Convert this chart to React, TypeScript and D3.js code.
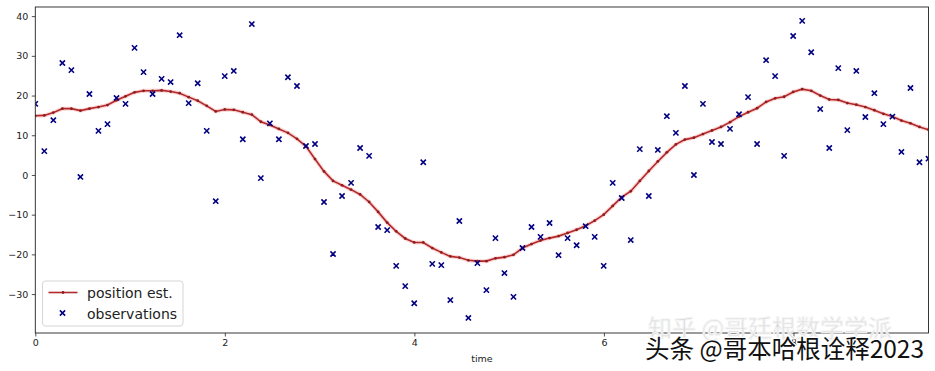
import { useEffect, useRef } from "react";
import * as d3 from "d3";

// 100 samples on [0, 3π]
const N = 100;
const T_MAX = 3 * Math.PI;
const times = d3.range(N).map((i) => (i * T_MAX) / (N - 1));

const observations = [
  17.9, 6.0, 13.8, 28.2, 26.4, -0.5, 20.4, 11.1, 12.8, 19.4,
  17.9, 32.0, 25.9, 20.4, 24.2, 23.4, 35.2, 18.1, 23.1, 11.1,
  -6.6, 24.9, 26.2, 9.0, 38.0, -0.8, 13.0, 9.0, 24.6, 22.4,
  7.3, 7.8, -6.8, -19.9, -5.3, -2.0, 6.8, 4.8, -13.1, -13.9,
  -22.9, -28.0, -32.3, 3.2, -22.4, -22.7, -31.5, -11.6, -36.0, -22.2,
  -29.0, -15.9, -24.7, -30.7, -18.4, -13.1, -15.6, -12.1, -20.2, -15.9,
  -17.7, -12.9, -15.6, -22.9, -2.0, -5.8, -16.4, 6.5, -5.3, 6.3,
  14.8, 10.6, 22.4, 0.0, 17.9, 8.3, 7.8, 11.6, 15.3, 19.6,
  7.8, 28.9, 24.9, 4.8, 35.0, 38.8, 30.9, 16.6, 6.8, 26.9,
  11.3, 26.2, 14.6, 20.6, 12.8, 14.7, 5.8, 21.9, 3.2, 4.1,
];

const estimates = [
  14.9, 15.0, 15.7, 16.7, 16.7, 16.2, 16.7, 17.1, 17.6, 18.8,
  19.8, 20.8, 21.2, 21.2, 21.3, 21.0, 20.6, 19.6, 18.7, 17.4,
  16.0, 16.5, 16.4, 15.8, 15.2, 13.4, 12.6, 11.6, 10.6, 9.1,
  7.2, 4.0, 0.9, -1.5, -2.6, -3.7, -4.9, -6.8, -9.3, -12.0,
  -14.2, -16.0, -17.0, -17.0, -18.4, -19.5, -20.5, -20.8, -21.5, -21.7,
  -21.7, -21.0, -20.7, -20.1, -18.4, -17.4, -16.5, -15.9, -15.4, -14.6,
  -13.8, -12.8, -11.5, -10.0, -7.8, -5.6, -4.1, -1.5, 1.0, 3.4,
  5.7, 7.7, 8.9, 9.4, 10.3, 11.2, 12.1, 13.3, 14.7, 15.8,
  16.8, 18.4, 19.3, 19.7, 20.9, 21.6, 21.2, 20.0, 19.0, 18.9,
  18.1, 17.7, 17.1, 16.3, 15.4, 14.7, 13.7, 13.0, 12.1, 11.4,
];

const xTicks = [0, 2, 4, 6, 8];
const yTicks = [-30, -20, -10, 0, 10, 20, 30, 40];
const legendLabels = ["position est.", "observations"];

const W = 935;
const H = 371;
const margin = { top: 7, right: 6.5, bottom: 38, left: 35.3 };
const FONT = "'DejaVu Sans', sans-serif";
const CJK = "'Noto Sans CJK SC', sans-serif";

export default function App() {
  const ref = useRef<SVGSVGElement>(null);

  useEffect(() => {
    const svg = d3.select(ref.current);
    svg.selectAll("*").remove();

    const x = d3
      .scaleLinear()
      .domain([0, T_MAX])
      .range([margin.left, W - margin.right]);
    const y = d3
      .scaleLinear()
      .domain([-39.8, 42.3])
      .range([H - margin.bottom, margin.top]);

    svg.append("rect").attr("width", W).attr("height", H).attr("fill", "white");

    svg
      .append("defs")
      .append("clipPath")
      .attr("id", "plot-clip")
      .append("rect")
      .attr("x", margin.left)
      .attr("y", margin.top)
      .attr("width", W - margin.left - margin.right)
      .attr("height", H - margin.top - margin.bottom);

    const plot = svg.append("g").attr("clip-path", "url(#plot-clip)");

    const line = d3
      .line<number>()
      .x((_, i) => x(times[i]))
      .y((d) => y(d));

    plot
      .append("path")
      .datum(estimates)
      .attr("fill", "none")
      .attr("stroke", "#f5a3a3")
      .attr("stroke-opacity", 0.45)
      .attr("stroke-width", 4)
      .attr("d", line);

    plot
      .append("path")
      .datum(estimates)
      .attr("fill", "none")
      .attr("stroke", "#b3292b")
      .attr("stroke-width", 1.6)
      .attr("d", line);

    plot
      .selectAll("circle.est")
      .data(estimates)
      .join("circle")
      .attr("class", "est")
      .attr("cx", (_, i) => x(times[i]))
      .attr("cy", (d) => y(d))
      .attr("r", 1.4)
      .attr("fill", "#8e1e1e");

    const s = 2.6;
    plot
      .selectAll("path.obs")
      .data(observations)
      .join("path")
      .attr("class", "obs")
      .attr("transform", (d, i) => `translate(${x(times[i])},${y(d)})`)
      .attr("d", `M${-s},${-s}L${s},${s}M${-s},${s}L${s},${-s}`)
      .attr("stroke", "#000080")
      .attr("stroke-width", 1.6)
      .attr("fill", "none");

    // axes
    const xAxis = svg
      .append("g")
      .attr("transform", `translate(0,${H - margin.bottom})`)
      .call(d3.axisBottom(x).tickValues(xTicks).tickSize(3.5).tickPadding(3).tickFormat(d3.format("d")));
    const yAxis = svg
      .append("g")
      .attr("transform", `translate(${margin.left},0)`)
      .call(
        d3
          .axisLeft(y)
          .tickValues(yTicks)
          .tickSize(3.5)
          .tickPadding(3.5)
          .tickFormat((d) => String(d).replace("-", "\u2212"))
      );
    [xAxis, yAxis].forEach((g) => {
      g.select(".domain").remove();
      g.selectAll("line").attr("stroke", "#222").attr("stroke-width", 0.8);
      g.selectAll("text").attr("font-family", FONT).attr("font-size", 9.5).attr("fill", "#222");
    });

    svg
      .append("rect")
      .attr("x", margin.left)
      .attr("y", margin.top)
      .attr("width", W - margin.left - margin.right)
      .attr("height", H - margin.top - margin.bottom)
      .attr("fill", "none")
      .attr("stroke", "#222")
      .attr("stroke-width", 0.9);

    svg
      .append("text")
      .attr("x", (margin.left + W - margin.right) / 2)
      .attr("y", 362)
      .attr("text-anchor", "middle")
      .attr("font-family", FONT)
      .attr("font-size", 9.5)
      .attr("fill", "#222")
      .text("time");

    // legend
    const lg = svg.append("g").attr("transform", "translate(42.5,281)");
    lg.append("rect")
      .attr("width", 140.5)
      .attr("height", 45)
      .attr("rx", 3)
      .attr("fill", "white")
      .attr("fill-opacity", 0.8)
      .attr("stroke", "#d0d0d0")
      .attr("stroke-width", 0.9);
    lg.append("line")
      .attr("x1", 6)
      .attr("x2", 35)
      .attr("y1", 11.5)
      .attr("y2", 11.5)
      .attr("stroke", "#b3292b")
      .attr("stroke-width", 1.6);
    lg.append("circle").attr("cx", 20.5).attr("cy", 11.5).attr("r", 1.4).attr("fill", "#8e1e1e");
    lg.append("path")
      .attr("transform", "translate(20,32)")
      .attr("d", `M${-s},${-s}L${s},${s}M${-s},${s}L${s},${-s}`)
      .attr("stroke", "#000080")
      .attr("stroke-width", 1.6);
    lg.selectAll("text")
      .data(legendLabels)
      .join("text")
      .attr("x", 44.5)
      .attr("y", (_, i) => 16.5 + i * 21)
      .attr("font-family", FONT)
      .attr("font-size", 14)
      .attr("fill", "#222")
      .text((d) => d);

    // watermarks
    svg
      .append("text")
      .attr("x", 648)
      .attr("y", 337)
      .attr("font-family", CJK)
      .attr("font-size", 24)
      .attr("fill", "#d4d4d4")
      .attr("stroke", "#f4f4f4")
      .attr("stroke-width", 1)
      .text("知乎 @哥廷根数学学派");

    svg
      .append("text")
      .attr("x", 645)
      .attr("y", 358)
      .attr("font-family", CJK)
      .attr("font-size", 24.5)
      .attr("fill", "#111")
      .attr("stroke", "white")
      .attr("stroke-width", 2.5)
      .attr("paint-order", "stroke")
      .text("头条 @哥本哈根诠释2023");
  }, []);

  return (
    <svg
      ref={ref}
      width={W}
      height={H}
      style={{ position: "absolute", left: 0, top: 0, display: "block" }}
    />
  );
}
